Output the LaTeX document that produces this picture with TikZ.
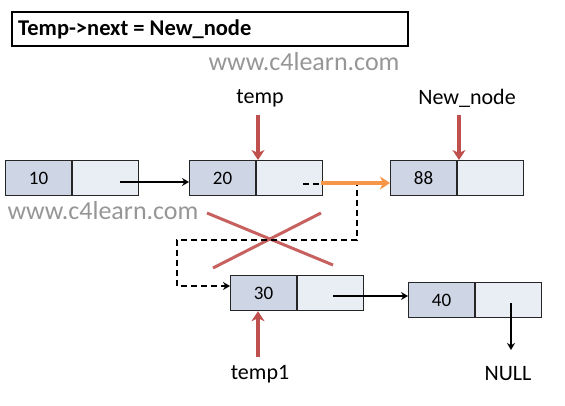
\documentclass[tikz,border=0pt]{standalone}
\usepackage{fontspec}
\setmainfont{Carlito}
\usetikzlibrary{arrows.meta,calc}
\definecolor{cellA}{RGB}{206,214,229}
\definecolor{cellB}{RGB}{233,237,244}
\definecolor{redarr}{RGB}{192,80,77}
\definecolor{orangearr}{RGB}{247,150,70}
\definecolor{wm}{RGB}{150,150,150}
\tikzset{
  datacell/.style={draw=black!85, line width=1.2pt, fill=cellA, minimum width=66pt, minimum height=35pt, inner sep=0pt, font=\fontsize{19}{21}\selectfont, anchor=north west},
  ptrcell/.style={draw=black!85, line width=1.2pt, fill=cellB, minimum width=66pt, minimum height=35pt, inner sep=0pt, anchor=west},
  blk/.style={-{Stealth[length=7pt,width=8pt]}, line width=2pt, black},
  redptr/.style={-{Stealth[length=10pt,width=13pt,inset=3pt]}, line width=3.6pt, redarr},
  orangeptr/.style={-{Stealth[length=10pt,width=13pt,inset=3pt]}, line width=3.6pt, orangearr},
  dashline/.style={line width=2.3pt, dash pattern=on 6pt off 4pt, black},
  crossline/.style={line width=3pt, redarr!90},
  lbl/.style={font=\fontsize{22}{24}\selectfont, inner sep=0pt},
  wmark/.style={font=\fontsize{26}{28}\selectfont, text=wm, inner sep=0pt}
}
\begin{document}
\begin{tikzpicture}[x=1pt,y=-1pt]
\useasboundingbox (0,0) rectangle (565,406);
% title
\node[draw=black, line width=2pt, minimum width=396pt, minimum height=34pt, anchor=north west, inner sep=0pt] (title) at (11,11) {};
\node[font=\fontsize{22.5}{24}\selectfont\bfseries, anchor=west, inner sep=0pt] (titletext) at (18,29) {Temp->next = New\_node};
% watermarks
\node[wmark] (wm1) at (304,62) {www.c4learn.com};
\node[wmark] (wm2) at (103,211) {www.c4learn.com};
% nodes
\node[datacell] (n10) at (5,160) {10};
\node[ptrcell] (p10) at (n10.east) {};
\node[datacell] (n20) at (189,160) {20};
\node[ptrcell] (p20) at (n20.east) {};
\node[datacell] (n88) at (390,160) {88};
\node[ptrcell] (p88) at (n88.east) {};
\node[datacell] (n30) at (230,275) {30};
\node[ptrcell] (p30) at (n30.east) {};
\node[datacell] (n40) at (408,282) {40};
\node[ptrcell] (p40) at (n40.east) {};
% cross
\coordinate (c1) at (207,213);
\coordinate (c2) at (333,265);
\coordinate (c3) at (213,268);
\coordinate (c4) at (321,213);
\draw[crossline] (c1) -- (c2);
\draw[crossline] (c3) -- (c4);
% black arrows
\coordinate (s10) at (120,182);
\draw[blk] (s10) -- (s10 -| n20.west);
\coordinate (s30) at (333,296);
\draw[blk] (s30) -- (s30 -| n40.west);
\coordinate (s40) at (511,303);
\coordinate (null) at (511,350);
\draw[blk] (s40) -- (null);
\node[lbl] (nulltxt) at (508,374) {NULL};
% dashed old link
\coordinate (d0) at (303,184);
\coordinate (d1) at (357,184);
\coordinate (d2) at (357,240);
\coordinate (d3) at (177,240);
\coordinate (d4) at (177,286);
\draw[dashline, -{Stealth[length=7pt,width=8pt]}] (d0) -- (d1) -- (d2) -- (d3) -- (d4) -- (d4 -| n30.west);
% orange new link
\coordinate (o0) at (321,183);
\draw[orangeptr] (o0) -- (o0 -| n88.west);
% labels with red arrows
\node[lbl] (temp) at (260,98) {temp};
\node[lbl] (newnode) at (467,98) {New\_node};
\node[lbl] (temp1) at (260,374) {temp1};
\coordinate (ta) at (258,115);
\coordinate (na) at (459,115);
\coordinate (t1a) at (258,357);
\draw[redptr] (ta) -- (ta |- n20.north);
\draw[redptr] (na) -- (na |- n88.north);
\draw[redptr] (t1a) -- (t1a |- n30.south);
\end{tikzpicture}
\end{document}
